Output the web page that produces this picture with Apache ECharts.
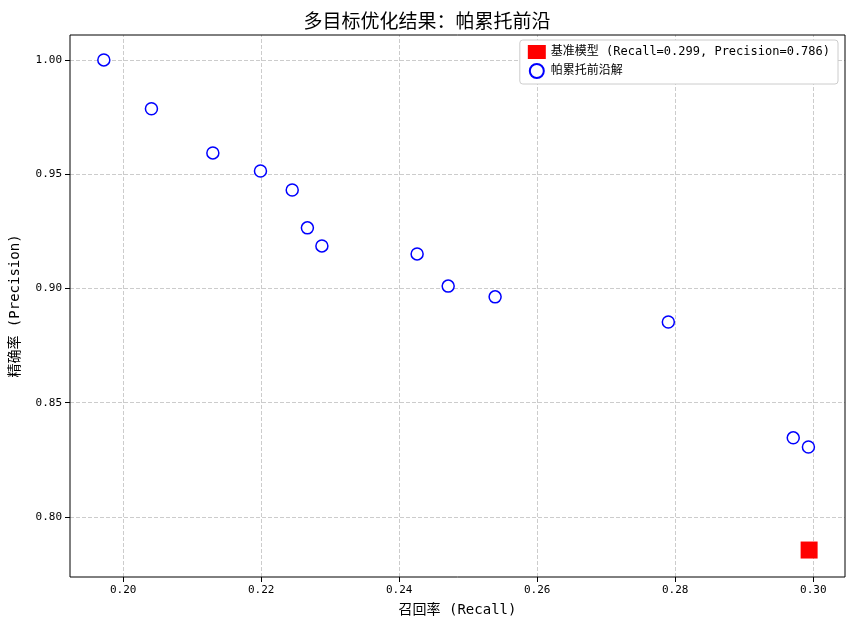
<!DOCTYPE html>
<html><head><meta charset="utf-8">
<script src="https://cdn.jsdelivr.net/npm/echarts@6/dist/echarts.min.js"></script>
<style>html,body{margin:0;padding:0;background:#fff}#c{width:854px;height:627px}</style>
</head><body><div id="c"></div>
<script>
const paretoRecall = [0.1972, 0.2041, 0.2130, 0.2199, 0.2245, 0.2267, 0.2288, 0.2426, 0.2471, 0.2539, 0.2790, 0.2971, 0.2993];
const paretoPrecision = [1.000, 0.9786, 0.9593, 0.9514, 0.9431, 0.9265, 0.9186, 0.9151, 0.9010, 0.8963, 0.8853, 0.8346, 0.8306];
const baseRecall = 0.2994, basePrecision = 0.7855;
const xTicks = [0.20, 0.22, 0.24, 0.26, 0.28, 0.30];
const yTicks = [0.80, 0.85, 0.90, 0.95, 1.00];
const baseName = '基准模型 (Recall=0.299, Precision=0.786)';
const paretoName = '帕累托前沿解';

const font = '"DejaVu Sans Mono", "Noto Sans CJK SC", sans-serif';
const gridLine = { type: 'dashed', color: '#ccc', width: 1 };
const chart = echarts.init(document.getElementById('c'));
chart.setOption({
  animation: false,
  textStyle: { fontFamily: font },
  title: { text: '多目标优化结果：帕累托前沿', left: 'center', top: 6,
    textStyle: { fontSize: 19, fontWeight: 'normal', color: '#000', fontFamily: '"Noto Sans CJK SC", sans-serif' } },
  grid: { left: 70, right: 9, top: 35, bottom: 50, show: true, borderColor: '#000', borderWidth: 1, z: 5 },
  legend: {
    top: 40, right: 16, orient: 'vertical', itemGap: 4, itemWidth: 18, itemHeight: 14,
    backgroundColor: '#fff', borderColor: '#ccc', borderWidth: 1, borderRadius: 3, padding: [5, 8],
    textStyle: { fontSize: 12, color: '#000', fontFamily: font },
    data: [{ name: baseName, icon: 'rect' }, { name: paretoName, icon: 'circle' }]
  },
  xAxis: {
    type: 'value', min: 0.1923, max: 0.3046,
    name: '召回率 (Recall)', nameLocation: 'middle', nameGap: 26,
    nameTextStyle: { fontSize: 14, color: '#000' },
    axisLine: { show: false },
    axisTick: { show: true, customValues: xTicks, lineStyle: { color: '#000' } },
    axisLabel: { color: '#000', fontSize: 11, customValues: xTicks, formatter: v => v.toFixed(2) },
    splitLine: { show: false }
  },
  yAxis: {
    type: 'value', min: 0.7737, max: 1.0109,
    name: '精确率 (Precision)', nameLocation: 'middle', nameGap: 48,
    nameTextStyle: { fontSize: 14, color: '#000' },
    axisLine: { show: false },
    axisTick: { show: true, customValues: yTicks, lineStyle: { color: '#000' } },
    axisLabel: { color: '#000', fontSize: 11, customValues: yTicks, formatter: v => v.toFixed(2) },
    splitLine: { show: false }
  },
  series: [
    { name: baseName, type: 'scatter', symbol: 'rect', symbolSize: 17,
      itemStyle: { color: '#ff0000', opacity: 1 }, data: [[baseRecall, basePrecision]], z: 3,
      markLine: { silent: true, symbol: 'none', label: { show: false }, lineStyle: gridLine, z: 1,
        data: xTicks.map(v => ({ xAxis: v })).concat(yTicks.map(v => ({ yAxis: v }))) } },
    { name: paretoName, type: 'scatter', symbol: 'circle', symbolSize: 12, z: 3,
      itemStyle: { color: '#fff', borderColor: '#0000ff', borderWidth: 1.5, opacity: 1 },
      data: paretoRecall.map((r, i) => [r, paretoPrecision[i]]) }
  ]
});
</script></body></html>
